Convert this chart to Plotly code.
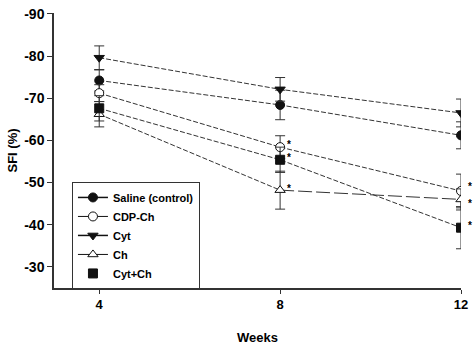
import plotly.graph_objects as go

weeks = [4, 8, 12]
series_names = ["Saline (control)", "CDP-Ch", "Cyt", "Ch", "Cyt+Ch"]
saline = [-74.2, -68.4, -61.2]
saline_err = [2.5, 3.5, 3.2]
cdp_ch = [-71.2, -58.4, -48.0]
cdp_ch_err = [2.0, 2.7, 4.0]
cyt = [-79.6, -72.1, -66.5]
cyt_err = [2.8, 2.8, 3.3]
ch = [-66.2, -48.2, -46.0]
ch_err = [3.0, 4.5, 2.5]
cyt_ch = [-67.6, -55.4, -39.3]
cyt_ch_err = [3.0, 3.0, 5.0]
# significance flags (*) per series per week
sig_cdp_ch = [False, True, True]
sig_ch = [False, True, True]
sig_cyt_ch = [False, True, True]

y_ticks = [-90, -80, -70, -60, -50, -40, -30]
x_ticks = [4, 8, 12]

FONT = "Arial, Liberation Sans, sans-serif"
LC = "#333333"
MC = "#111111"

fig = go.Figure()

def add_series(y, err, symbol, filled, dash="5px,2px"):
    fig.add_trace(go.Scatter(
        x=weeks, y=y, mode="lines+markers", showlegend=False,
        line=dict(color=LC, width=1, dash=dash),
        marker=dict(symbol=symbol, size=9, color=MC if filled else "white",
                    line=dict(color=MC, width=1)),
        error_y=dict(type="data", array=err, visible=True, color=LC,
                     thickness=1, width=5),
    ))

add_series(saline, saline_err, "circle", True)
add_series(cdp_ch, cdp_ch_err, "circle", False)
add_series(cyt, cyt_err, "triangle-down", True)
# Ch: short dashes first segment, long dashes second segment
fig.add_trace(go.Scatter(x=weeks[:2], y=ch[:2], mode="lines", showlegend=False,
                         line=dict(color=LC, width=1, dash="5px,2px")))
fig.add_trace(go.Scatter(x=weeks[1:], y=ch[1:], mode="lines", showlegend=False,
                         line=dict(color=LC, width=1, dash="14px,4px")))
fig.add_trace(go.Scatter(
    x=weeks, y=ch, mode="markers", showlegend=False,
    marker=dict(symbol="triangle-up", size=9, color="white", line=dict(color=MC, width=1)),
    error_y=dict(type="data", array=ch_err, visible=True, color=LC, thickness=1, width=5),
))
add_series(cyt_ch, cyt_ch_err, "square", True)

# legend-only traces
leg = [
    (series_names[0], "circle", True, "lines+markers"),
    (series_names[1], "circle", False, "lines+markers"),
    (series_names[2], "triangle-down", True, "lines+markers"),
    (series_names[3], "triangle-up", False, "lines+markers"),
    (series_names[4], "square", True, "markers"),
]
for name, sym, filled, mode in leg:
    fig.add_trace(go.Scatter(
        x=[None], y=[None], mode=mode, name="<b>" + name + "</b>",
        line=dict(color=MC, width=1.5 if filled else 1),
        marker=dict(symbol=sym, size=9, color=MC if filled else "white",
                    line=dict(color=MC, width=1)),
    ))

# asterisks (small vertical nudges keep close stars apart)
star_nudge = {"cdp": [0, 3, 4], "ch": [0, 2, -4], "cytch": [0, 2, 2]}
for key, y, sig in [("cdp", cdp_ch, sig_cdp_ch), ("ch", ch, sig_ch), ("cytch", cyt_ch, sig_cyt_ch)]:
    for i, (w, v, s) in enumerate(zip(weeks, y, sig)):
        if s:
            fig.add_annotation(x=w, y=v, text="<b>*</b>", showarrow=False, xshift=9,
                               yshift=star_nudge[key][i],
                               font=dict(family=FONT, size=10, color="black"))

fig.update_layout(
    width=474, height=349,
    margin=dict(l=54, r=12, t=6, b=50),
    paper_bgcolor="white", plot_bgcolor="white",
    font=dict(family=FONT, color="black"),
    showlegend=True,
    legend=dict(x=(72 - 54) / 408, y=(299 - 186) / 293, xanchor="left", yanchor="top",
                bordercolor="#333", borderwidth=1, bgcolor="white",
                font=dict(family=FONT, size=11, color="black"),
                tracegroupgap=0),
)
fig.update_xaxes(range=[3, 12], tickvals=x_ticks, ticktext=[f"<b>{t}</b>" for t in x_ticks],
                 showline=True, linecolor="#333", linewidth=1.5, mirror=False,
                 ticks="outside", ticklen=4, tickcolor="#333", showgrid=False, zeroline=False,
                 tickfont=dict(family=FONT, size=13),
                 title=dict(text="<b>Weeks</b>", font=dict(family=FONT, size=13), standoff=22))
fig.update_yaxes(range=[-25, -90.2], tickvals=y_ticks, ticktext=[f"<b>{t}</b>" for t in y_ticks],
                 showline=True, linecolor="#333", linewidth=1.5, mirror=False,
                 ticks="outside", ticklen=5, tickcolor="#333", showgrid=False, zeroline=False,
                 tickfont=dict(family=FONT, size=14), ticklabeloverflow="allow",
                 title=dict(text="<b>SFI (%)</b>", font=dict(family=FONT, size=13), standoff=4))

fig.write_html("out.html")
